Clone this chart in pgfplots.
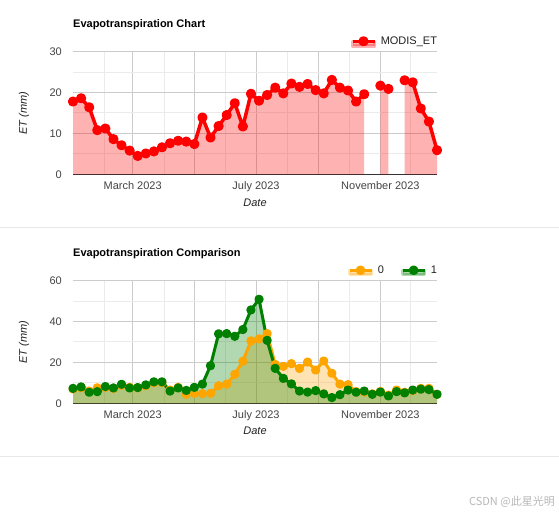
\documentclass[border=0pt]{standalone}
\usepackage{pgfplots}
\pgfplotsset{compat=1.18}
\usepackage{pgfplotstable}
\usepackage{fontspec}
\setmainfont{Liberation Sans}
\newfontfamily\cjk{Noto Sans CJK SC}
\definecolor{gred}{HTML}{FF0000}
\definecolor{gorange}{HTML}{FFA500}
\definecolor{ggreen}{HTML}{008000}
\definecolor{ticklab}{HTML}{444444}
\definecolor{axlab}{HTML}{222222}
\definecolor{majgrid}{HTML}{CCCCCC}
\definecolor{mingrid}{HTML}{EBEBEB}
\definecolor{sepline}{HTML}{E8E8E8}
\definecolor{basel}{HTML}{333333}

\pgfplotstableread{
day et
0 17.8
8 18.6
16 16.4
24 10.8
32 11.2
40 8.6
48 7.1
56 5.8
64 4.5
72 5.1
80 5.6
88 6.6
96 7.6
104 8.2
112 8.0
120 7.4
128 13.9
136 9.0
144 11.8
152 14.5
160 17.4
168 11.7
176 19.7
184 18.0
192 19.4
200 21.2
208 19.8
216 22.2
224 21.4
232 22.1
240 20.6
248 19.8
256 23.1
264 21.2
272 20.5
280 17.8
288 19.6
296 nan
304 21.7
312 20.9
320 nan
328 23.0
336 22.5
344 16.1
352 12.9
360 5.9
}\modis

\pgfplotstableread{
day s0 s1
0 7.0 7.3
8 7.6 8.0
16 6.0 5.4
24 7.6 5.7
32 7.8 8.2
40 7.3 7.5
48 8.8 9.3
56 7.8 7.5
64 7.5 7.7
72 8.6 9.0
80 10.0 10.5
88 10.2 10.5
96 6.5 6.0
104 7.8 7.5
112 4.4 6.3
120 4.9 7.8
128 4.7 9.4
136 4.9 18.4
144 8.6 34.0
152 9.4 34.1
160 14.2 32.8
168 20.6 36.1
176 30.6 45.7
184 31.5 50.9
192 34.1 30.8
200 19.0 17.1
208 18.1 12.2
216 19.4 9.5
224 17.1 6.0
232 20.2 5.5
240 16.3 6.2
248 20.7 4.6
256 14.7 2.8
264 9.4 4.2
272 9.1 6.5
280 5.7 5.4
288 5.5 6.0
296 4.6 4.4
304 5.8 5.5
312 4.0 3.6
320 6.5 5.7
328 5.4 5.1
336 6.2 6.5
344 7.3 6.9
352 7.3 6.7
360 4.4 4.4
}\comp

\pgfplotsset{
  gstyle/.style={
    scale only axis, width=364pt, height=122.6pt,
    xmin=0, xmax=360, ymin=0,
    clip=false,
    axis x line*=bottom, axis y line*=left,
    x axis line style={-, draw=basel, line width=1pt},
    y axis line style={draw=none},
    major tick length=0pt, minor tick length=0pt,
    xtick={59,120,181,243,304},
    xticklabels={March 2023,,July 2023,,November 2023},
    minor xtick={31,90,151,212,273,334},
    xmajorgrids, ymajorgrids, xminorgrids, yminorgrids,
    major grid style={draw=majgrid, line width=1pt},
    minor grid style={draw=mingrid, line width=1pt},
    /pgf/number format/assume math mode=true,
    tick label style={font=\fontsize{11}{13}\selectfont, text=ticklab},
    xticklabel style={anchor=north, inner sep=0pt, yshift=-7.5pt},
    yticklabel style={anchor=east, inner sep=0pt, xshift=-11pt},
    xlabel={Date},
    ylabel={ET (mm)},
    label style={font=\itshape\fontsize{11}{13}\selectfont, text=axlab},
    ylabel style={at={(axis description cs:-0.1346,0.5)}, anchor=center, rotate=0},
    title style={at={(axis description cs:0,1)}, anchor=base west, inner sep=0pt,
                 yshift=18pt, font=\bfseries\fontsize{11}{13}\selectfont},
    legend style={at={(axis description cs:1,1)}, anchor=east, yshift=9.8pt,
                  draw=none, fill=none, inner sep=0pt, outer sep=0pt,
                  font=\fontsize{11}{13}\selectfont, text=axlab,
                  nodes={inner sep=0pt},
                  /tikz/every odd column/.append style={column sep=4.5pt},
                  /tikz/every even column/.append style={column sep=17pt}},
    legend cell align=left,
  },
  legsym/.style={legend image code/.code={
      \fill[#1, opacity=0.3] (0pt,-4.5pt) rectangle (22pt,0pt);
      \draw[#1, line width=3.5pt] (0pt,0pt) -- (22pt,0pt);
      \fill[#1] (11pt,0pt) circle (3.3pt);
  }},
}

\begin{document}
\begin{tikzpicture}
\useasboundingbox[fill=white] (0pt,0pt) rectangle (559pt,513pt);
\draw[sepline, line width=1pt] (0pt,285.7pt) -- (559pt,285.7pt);
\draw[sepline, line width=1pt] (0pt,56.3pt) -- (559pt,56.3pt);

\begin{axis}[gstyle, at={(73pt,338.7pt)}, anchor=south west,
  ymax=30, ytick={0,10,20,30}, minor ytick={5,15,25},
  title={Evapotranspiration Chart},
  xlabel style={at={(axis description cs:0.5,-0.2284)}, anchor=center},
]
\addplot[draw=none, fill=gred, fill opacity=0.3, forget plot, restrict x to domain=0:288]
  table[x=day, y=et] {\modis} \closedcycle;
\addplot[draw=none, fill=gred, fill opacity=0.3, forget plot, restrict x to domain=304:312]
  table[x=day, y=et] {\modis} \closedcycle;
\addplot[draw=none, fill=gred, fill opacity=0.3, forget plot, restrict x to domain=328:360]
  table[x=day, y=et] {\modis} \closedcycle;
\addplot[gred, line width=3.5pt, unbounded coords=jump, line join=round,
  mark=*, mark size=3.3pt, mark options={solid, draw=none, fill=gred},
  legsym=gred]
  table[x=day, y=et] {\modis};
\addlegendentry{MODIS\_ET}
\end{axis}

\begin{axis}[gstyle, at={(73pt,109.7pt)}, anchor=south west,
  ymax=60, ytick={0,20,40,60}, minor ytick={10,30,50},
  title={Evapotranspiration Comparison},
  xlabel style={at={(axis description cs:0.5,-0.226)}, anchor=center},
  legend columns=2,
]
\addplot[draw=none, fill=gorange, fill opacity=0.3, forget plot]
  table[x=day, y=s0] {\comp} \closedcycle;
\addplot[draw=none, fill=ggreen, fill opacity=0.3, forget plot]
  table[x=day, y=s1] {\comp} \closedcycle;
\addplot[gorange, line width=3pt, line join=round,
  mark=*, mark size=3.1pt, mark options={solid, draw=none, fill=gorange},
  legsym=gorange]
  table[x=day, y=s0] {\comp};
\addlegendentry{0}
\addplot[ggreen, line width=3pt, line join=round,
  mark=*, mark size=3.1pt, mark options={solid, draw=none, fill=ggreen},
  legsym=ggreen]
  table[x=day, y=s1] {\comp};
\addlegendentry{1}
\end{axis}

\node[anchor=east, inner sep=0pt, text=black!28, font=\cjk\fontsize{11}{13}\selectfont]
  at (555pt,11.3pt) {CSDN @此星光明};
\end{tikzpicture}
\end{document}
